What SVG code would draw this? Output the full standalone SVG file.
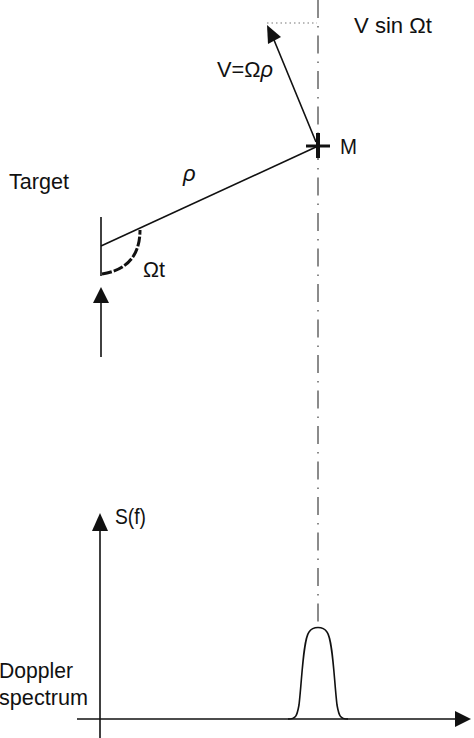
<svg xmlns="http://www.w3.org/2000/svg" width="474" height="738" viewBox="0 0 474 738">
<style>
text{font-family:"Liberation Sans",Arial,sans-serif;font-size:22px;fill:#111}
.ln{stroke:#111;stroke-width:1.6;fill:none}
.ah{fill:#111;stroke:none}
.it{font-style:italic}
</style>
<rect width="474" height="738" fill="#fff"/>
<g id="connectors">
<line x1="318" y1="0" x2="318" y2="628" stroke="#666" stroke-width="1.5" stroke-dasharray="18 8 1.5 8"/>
<line x1="267" y1="23" x2="317" y2="23" stroke="#777" stroke-width="1.2" stroke-dasharray="1.5 3"/>
<line class="ln" x1="101" y1="246" x2="316" y2="147"/>
<line class="ln" x1="316" y1="142" x2="274" y2="40"/>
<polygon class="ah" points="267,25 281,37 268,44"/>
<line class="ln" x1="101" y1="217" x2="101" y2="276"/>
<line class="ln" x1="101" y1="300" x2="101" y2="357"/>
<polygon class="ah" points="101,287 93,303 109,303"/>
<path d="M102,274 Q140,268 140,230" fill="none" stroke="#111" stroke-width="3" stroke-dasharray="10 2"/>
<line class="ln" x1="100" y1="529" x2="100" y2="738"/>
<polygon class="ah" points="100,513 92,531 108,531"/>
<line class="ln" x1="77" y1="719" x2="457" y2="719"/>
<polygon class="ah" points="471,719 455,711 455,727"/>
<path class="ln" d="M288,719 C296,719 297,716 299,705 C302,680 303,640 309,632 C313,626 323,626 327,632 C333,640 334,680 337,705 C339,716 340,719 348,719"/>
</g>
<g id="M">
<line x1="306" y1="146" x2="330" y2="146" stroke="#111" stroke-width="3"/>
<line x1="318" y1="133" x2="318" y2="158" stroke="#111" stroke-width="4"/>
<text x="340" y="154" textLength="17" lengthAdjust="spacingAndGlyphs">M</text>
</g>
<g id="vsin"><text x="354" y="33" textLength="78" lengthAdjust="spacingAndGlyphs">V sin Ωt</text></g>
<g id="velocity"><text x="217" y="77" textLength="56" lengthAdjust="spacingAndGlyphs">V=Ω<tspan class="it">ρ</tspan></text></g>
<g id="rho"><text class="it" x="183" y="181">ρ</text></g>
<g id="target"><text x="9" y="189" textLength="60" lengthAdjust="spacingAndGlyphs">Target</text></g>
<g id="angle"><text x="143" y="277" textLength="22" lengthAdjust="spacingAndGlyphs">Ωt</text></g>
<g id="sf"><text x="115" y="524" textLength="31" lengthAdjust="spacingAndGlyphs">S(f)</text></g>
<g id="doppler"><text x="-1" y="678" textLength="74" lengthAdjust="spacingAndGlyphs">Doppler</text><text x="-1" y="705" textLength="89" lengthAdjust="spacingAndGlyphs">spectrum</text></g>
</svg>
